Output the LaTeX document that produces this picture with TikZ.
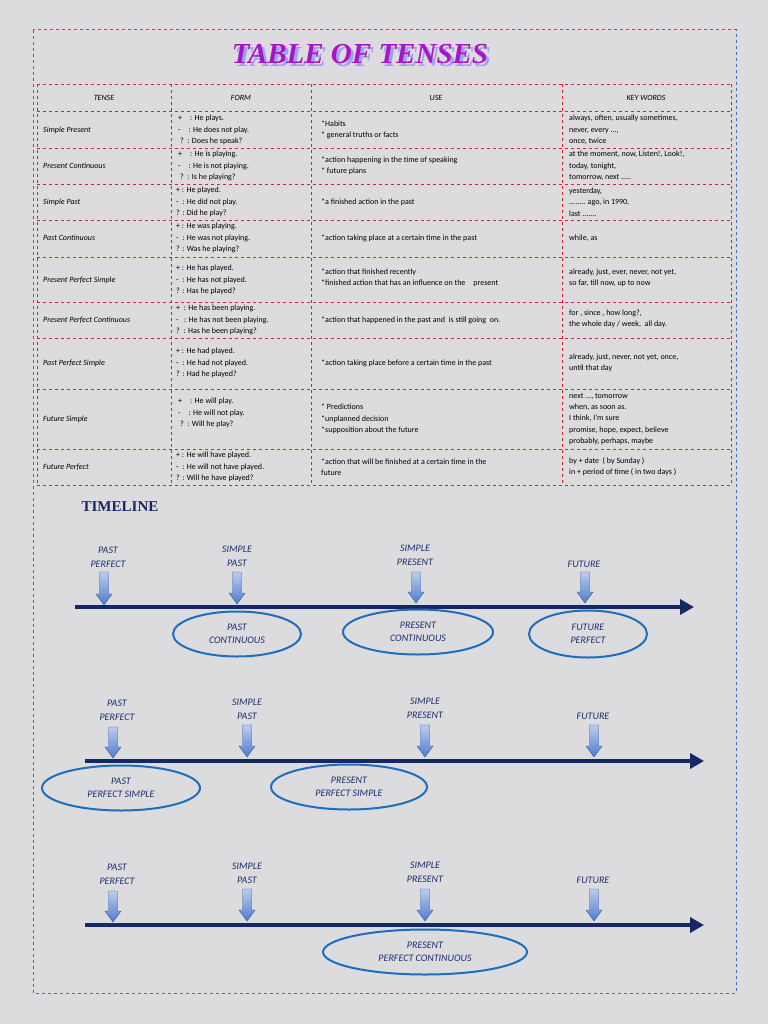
\documentclass[tikz,border=0pt]{standalone}
\usepackage{fontspec}
\setmainfont{Carlito}
\newfontfamily\titlefont{Liberation Serif}
\usetikzlibrary{arrows.meta,shapes.geometric}
\definecolor{bg}{RGB}{220,220,222}
\definecolor{tred}{RGB}{225,30,40}
\definecolor{fblue}{RGB}{60,110,200}
\definecolor{navy}{RGB}{22,40,100}
\definecolor{lab}{RGB}{30,45,110}
\definecolor{ell}{RGB}{30,110,190}
\definecolor{mag}{RGB}{170,20,200}
\definecolor{lav}{RGB}{160,160,240}
\tikzset{
 cell/.style={anchor=west,align=left,inner sep=0pt,font=\fontsize{8}{11.3}\selectfont,text=black},
 tense/.style={cell,font=\fontsize{8}{11.3}\selectfont\itshape},
 head/.style={anchor=center,inner sep=0pt,font=\fontsize{8}{11}\selectfont\itshape},
 tl/.style={align=center,inner sep=0pt,text=lab,font=\fontsize{10}{14}\selectfont\itshape},
 ov/.style={ellipse,draw=ell,line width=2pt,align=center,text=lab,font=\fontsize{10}{13.5}\selectfont\itshape,inner sep=0pt},
 axis/.style={navy,line width=3.5pt,-{Triangle[length=14pt,width=15pt]}},
 grid/.style={tred,dashed,line width=0.6pt}
}
\newcommand{\darr}[3]{\shade[top color=fblue!35,bottom color=fblue!90,draw=fblue!80!black,line width=0.4pt]
 (#1-4.5,#2)--(#1+4.5,#2)--(#1+4.5,#3-11)--(#1+8,#3-11)--(#1,#3)--(#1-8,#3-11)--(#1-4.5,#3-11)--cycle;}
\newcommand{\ttl}{TABLE OF TENSES}
\begin{document}
\begin{tikzpicture}[x=1pt,y=-1pt]
\fill[bg] (0,0) rectangle (768,1024);
\useasboundingbox (0,0) rectangle (768,1024);
\draw[fblue,dashed,line width=1pt] (33,30) rectangle (736,993);
% title
\node (title) [font=\titlefont\fontsize{29}{29}\selectfont\bfseries\itshape,text=mag] at (360,56)
 {\rlap{\hspace{3pt}\raisebox{-3pt}{\color{lav}\ttl}}\ttl};
% grid
\foreach \y in {84,111,148,184,220,257,302,338,389,449,485} \draw[grid] (37,\y)--(731,\y);
\foreach \x in {37,171,311,562,731} \draw[grid] (\x,84)--(\x,485);
% header
\node[head] (h1) at (104,98) {TENSE};
\node[head] (h2) at (241,98) {FORM};
\node[head] (h3) at (436,98) {USE};
\node[head] (h4) at (646,98) {KEY WORDS};
% rows
\node[tense] (t1) at (43,130) {Simple Present};
\node[cell] (f1) at (178,130) {+\quad: He plays.\\-\quad : He does not play.\\\ ?\ \ : Does he speak?};
\node[cell] (u1) at (321,130) {*Habits\\* general truths or facts};
\node[cell] (k1) at (569,130) {always, often, usually sometimes,\\never, every ...,\\once, twice};
\node[tense] (t2) at (43,166) {Present Continuous};
\node[cell] (f2) at (178,166) {+\quad: He is playing.\\-\quad : He is not playing.\\\ ?\ \ : Is he playing?};
\node[cell] (u2) at (321,166) {*action happening in the time of speaking\\* future plans};
\node[cell] (k2) at (569,166) {at the moment, now, Listen!, Look!,\\today, tonight,\\tomorrow, next .....};
\node[tense] (t3) at (43,202) {Simple Past};
\node[cell] (f3) at (176,202) {+ : He played.\\-\ \ : He did not play.\\? : Did he play?};
\node[cell] (u3) at (321,202) {*a finished action in the past};
\node[cell] (k3) at (569,202) {yesterday,\\........ ago, in 1990,\\last .......};
\node[tense] (t4) at (43,238) {Past Continuous};
\node[cell] (f4) at (176,238) {+ : He was playing.\\-\ \ : He was not playing.\\? : Was he playing?};
\node[cell] (u4) at (321,238) {*action taking place at a certain time in the past};
\node[cell] (k4) at (569,238) {while, as};
\node[tense] (t5) at (43,280) {Present Perfect Simple};
\node[cell] (f5) at (176,280) {+ : He has played.\\-\ \ : He has not played.\\? : Has he played?};
\node[cell] (u5) at (321,278) {*action that finished recently\\*finished action that has an influence on the\quad present};
\node[cell] (k5) at (569,278) {already, just, ever, never, not yet,\\so far, till now, up to now};
\node[tense] (t6) at (43,320) {Present Perfect Continuous};
\node[cell] (f6) at (176,320) {+\ \ : He has been playing.\\-\ \ \ : He has not been playing.\\?\ \ : Has he been playing?};
\node[cell] (u6) at (321,320) {*action that happened in the past and\ \ is still going\ \ on.};
\node[cell] (k6) at (569,319) {for , since , how long?,\\the whole day / week,\ \ all day.};
\node[tense] (t7) at (43,363) {Past Perfect Simple};
\node[cell] (f7) at (176,363) {+ : He had played.\\-\ \ : He had not played.\\? : Had he played?};
\node[cell] (u7) at (321,363) {*action taking place before a certain time in the past};
\node[cell] (k7) at (569,363) {already, just, never, not yet, once,\\until that day};
\node[tense] (t8) at (43,419) {Future Simple};
\node[cell] (f8) at (178,413) {+\quad: He will play.\\-\quad : He will not play.\\\ ?\ \ : Will he play?};
\node[cell] (u8) at (321,419) {* Predictions\\*unplanned decision\\*supposition about the future};
\node[cell] (k8) at (569,419) {next ..., tomorrow\\when, as soon as.\\I think, I'm sure\\promise, hope, expect, believe\\probably, perhaps, maybe};
\node[tense] (t9) at (43,467) {Future Perfect};
\node[cell] (f9) at (176,467) {+ : He will have played.\\-\ \ : He will not have played.\\? : Will he have played?};
\node[cell] (u9) at (321,467) {*action that will be finished at a certain time in the\\future};
\node[cell] (k9) at (569,467) {by + date\ \ ( by Sunday )\\in + period of time\ ( in two days )};
% timeline title
\node (tlt) [font=\titlefont\fontsize{15}{15}\selectfont\bfseries,text=navy] at (120,507) {TIMELINE};
% timeline 1
\coordinate (a1s) at (75,607); \coordinate (a1e) at (694,607);
\draw[axis] (a1s)--(a1e);
\darr{104}{572}{605}\darr{237}{572}{604}\darr{416}{572}{603}\darr{585}{572}{603}
\node[tl] (l11) at (108,557) {PAST\\PERFECT};
\node[tl] (l12) at (237,556) {SIMPLE\\PAST};
\node[tl] (l13) at (415,555) {SIMPLE\\PRESENT};
\node[tl] (l14) at (584,564) {FUTURE};
\node[ov,minimum width=128pt,minimum height=45pt] (e11) at (237,634) {PAST\\CONTINUOUS};
\node[ov,minimum width=150pt,minimum height=45pt] (e12) at (418,632) {PRESENT\\CONTINUOUS};
\node[ov,minimum width=118pt,minimum height=47pt] (e13) at (588,634) {FUTURE\\PERFECT};
% timeline 2
\coordinate (a2s) at (85,761); \coordinate (a2e) at (704,761);
\draw[axis] (a2s)--(a2e);
\darr{113}{727}{758}\darr{247}{725}{757}\darr{425}{725}{757}\darr{594}{725}{757}
\node[tl] (l21) at (117,710) {PAST\\PERFECT};
\node[tl] (l22) at (247,709) {SIMPLE\\PAST};
\node[tl] (l23) at (425,708) {SIMPLE\\PRESENT};
\node[tl] (l24) at (593,716) {FUTURE};
\node[ov,minimum width=158pt,minimum height=45pt] (e21) at (121,788) {PAST\\PERFECT SIMPLE};
\node[ov,minimum width=156pt,minimum height=45pt] (e22) at (349,787) {PRESENT\\PERFECT SIMPLE};
% timeline 3
\coordinate (a3s) at (85,925); \coordinate (a3e) at (704,925);
\draw[axis] (a3s)--(a3e);
\darr{113}{891}{922}\darr{247}{889}{921}\darr{425}{889}{921}\darr{594}{889}{921}
\node[tl] (l31) at (117,874) {PAST\\PERFECT};
\node[tl] (l32) at (247,873) {SIMPLE\\PAST};
\node[tl] (l33) at (425,872) {SIMPLE\\PRESENT};
\node[tl] (l34) at (593,880) {FUTURE};
\node[ov,minimum width=204pt,minimum height=45pt] (e31) at (425,952) {PRESENT\\PERFECT CONTINUOUS};
\end{tikzpicture}
\end{document}
